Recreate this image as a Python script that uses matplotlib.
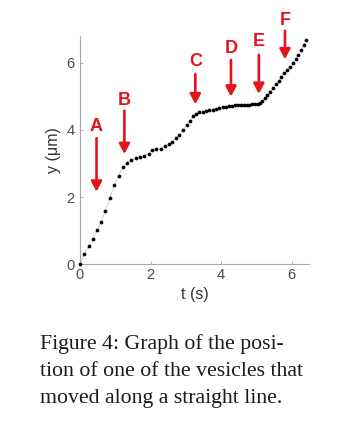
import matplotlib
matplotlib.use("Agg")
import matplotlib.pyplot as plt

# vesicle track
t_vals = [0.00, 0.12, 0.25, 0.37, 0.49, 0.60, 0.72, 0.85, 0.97, 1.10,
          1.22, 1.34, 1.45, 1.59, 1.70, 1.81, 1.95, 2.05, 2.16, 2.29, 2.40, 2.51,
          2.62, 2.72, 2.82, 2.92, 3.02, 3.12, 3.20, 3.29, 3.38, 3.48, 3.57, 3.66,
          3.76, 3.85, 3.95, 4.04,
          4.14, 4.22, 4.31, 4.39, 4.47, 4.55, 4.64, 4.72, 4.80, 4.88, 4.96, 5.04,
          5.11, 5.17, 5.24, 5.31, 5.39, 5.47, 5.55, 5.63, 5.71, 5.79, 5.87, 5.95,
          6.03, 6.11, 6.19, 6.27, 6.34, 6.40]
y_vals = [0.00, 0.29, 0.55, 0.75, 1.02, 1.27, 1.58, 1.98, 2.36, 2.63,
          2.90, 3.02, 3.10, 3.15, 3.19, 3.21, 3.29, 3.39, 3.43, 3.44, 3.51, 3.58,
          3.65, 3.75, 3.86, 3.98, 4.13, 4.27, 4.40, 4.47, 4.52, 4.54, 4.56, 4.58,
          4.60, 4.62, 4.64, 4.67,
          4.69, 4.71, 4.72, 4.73, 4.74, 4.74, 4.75, 4.75, 4.75, 4.76, 4.76, 4.77,
          4.79, 4.86, 4.94, 5.03, 5.13, 5.24, 5.35, 5.46, 5.57, 5.68, 5.78, 5.88,
          5.99, 6.10, 6.23, 6.37, 6.52, 6.66]

# arrow labels: letter, t, letter height, shaft top, arrow tip
arrow_names = ["A", "B", "C", "D", "E", "F"]
arrow_t = [0.47, 1.26, 3.27, 4.28, 5.07, 5.81]
arrow_label_y = [4.10, 4.87, 6.03, 6.43, 6.63, 7.24]
arrow_top = [3.75, 4.57, 5.66, 6.08, 6.23, 6.95]
arrow_tip = [2.16, 3.28, 4.76, 4.99, 5.07, 6.10]

caption = ("Figure 4: Graph of the posi-\n"
           "tion of one of the vesicles that\n"
           "moved along a straight line.")

red = "#e3141c"
gray = "#a8a8a8"

fig = plt.figure(figsize=(3.46, 4.36), dpi=100)
ax = fig.add_axes([0.231, 0.394, 0.663, 0.524])

ax.plot(t_vals, y_vals, color="#c8c8c8", lw=0.6, zorder=1)
ax.plot(t_vals, y_vals, "o", color="black", ms=2.7, mew=0, zorder=3, clip_on=False)

for name, t, ly, top, tip in zip(arrow_names, arrow_t, arrow_label_y, arrow_top, arrow_tip):
    ax.annotate("", xy=(t, tip), xytext=(t, top),
                arrowprops=dict(arrowstyle="-|>,head_length=0.6,head_width=0.32",
                                color=red, lw=1.9, shrinkA=0, shrinkB=0),
                annotation_clip=False)
    ax.text(t, ly, name, color=red, fontsize=13, fontweight="bold",
            family="Liberation Sans", ha="center", va="center", clip_on=False)

ax.set_xlim(0, 6.5)
ax.set_ylim(0, 6.8)
ax.set_xticks([0, 2, 4, 6])
ax.set_yticks([0, 2, 4, 6])

for s in ["top", "right"]:
    ax.spines[s].set_visible(False)
for s in ["left", "bottom"]:
    ax.spines[s].set_color(gray)
    ax.spines[s].set_linewidth(0.8)

ax.tick_params(direction="in", length=2.5, width=0.6, color=gray,
               labelcolor="#4a4a4a", labelsize=10.5)
ax.tick_params(axis="y", pad=4)
ax.tick_params(axis="x", pad=3)
for lab in ax.get_xticklabels() + ax.get_yticklabels():
    lab.set_family("Liberation Sans")

ax.set_xlabel("t (s)", family="Liberation Sans", fontsize=11.5, color="#333333", labelpad=3)
ax.set_ylabel("y (\u03bcm)", family="Liberation Sans", fontsize=11.5, color="#333333", labelpad=4)

fig.text(0.116, 0.234, caption, family="Liberation Serif", fontsize=15.7,
         color="#1a1a1a", ha="left", va="top", linespacing=1.58)

fig.savefig("out.png", dpi=100)
